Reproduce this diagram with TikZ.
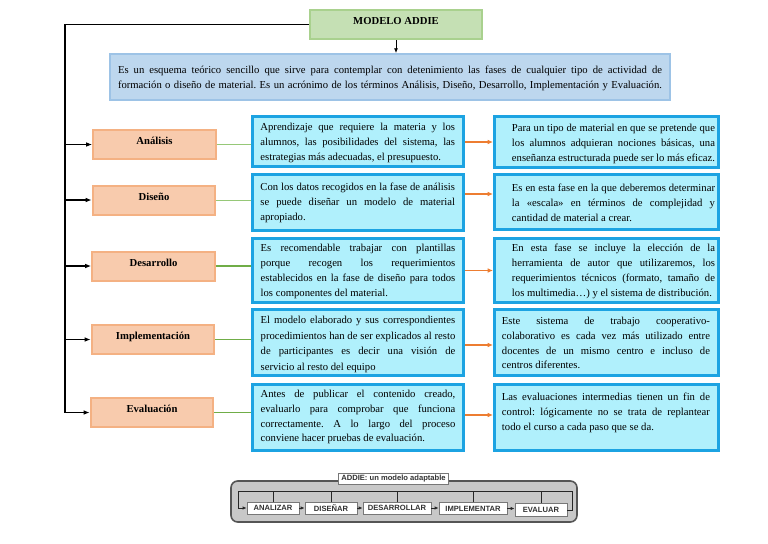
\documentclass[tikz,border=0pt]{standalone}
\usepackage{fontspec}
\setmainfont{Liberation Serif}
\setsansfont{Liberation Sans}
\usepackage{tikz}
\usetikzlibrary{arrows.meta, positioning}
\frenchspacing

\definecolor{titlefill}{RGB}{197,224,180}
\definecolor{titleline}{RGB}{169,209,142}
\definecolor{introfill}{RGB}{189,215,238}
\definecolor{introline}{RGB}{157,195,230}
\definecolor{phasefill}{RGB}{248,203,173}
\definecolor{phaseline}{RGB}{244,177,131}
\definecolor{notefill}{RGB}{176,240,252}
\definecolor{noteline}{RGB}{28,163,226}
\definecolor{linkgreen}{RGB}{112,173,71}
\definecolor{linklight}{RGB}{150,200,120}
\definecolor{linkorange}{RGB}{237,125,49}
\definecolor{stripfill}{RGB}{200,200,200}
\definecolor{stripline}{RGB}{85,85,85}
\definecolor{striptext}{RGB}{50,50,50}

% width, height, top gap, left gap, right gap, text
\newcommand{\cellbox}[6]{\begin{minipage}[c][#2][t]{#1}\leftskip=#4\relax\rightskip=#5\relax\hyphenpenalty=10000\relax\vspace*{#3}#6\end{minipage}}

\begin{document}
\begin{tikzpicture}[x=0.75pt,y=0.75pt,yscale=-1,xscale=1,
  titlebox/.style={draw=titleline, fill=titlefill, line width=1.5pt, inner sep=0pt, minimum width=129pt, minimum height=21.75pt, text height=4pt, text depth=4pt, font=\bfseries\fontsize{8}{10}\selectfont},
  introbox/.style={draw=introline, fill=introfill, line width=1.5pt, inner sep=0pt, font=\fontsize{8}{11.25}\selectfont},
  phasebox/.style={draw=phaseline, fill=phasefill, line width=1.5pt, inner sep=0pt, minimum width=92pt, minimum height=21.75pt, text height=4pt, text depth=4pt, font=\bfseries\fontsize{8}{10}\selectfont},
  notebox/.style={draw=noteline, fill=notefill, line width=2.2pt, inner sep=0pt, font=\fontsize{8}{11.25}\selectfont},
  textlead/.style={font=\fontsize{8}{#1}\selectfont},
  railarrow/.style={draw=black, line width=0.8pt, -{Latex[length=4.5pt,width=3.5pt]}},
  greenlink/.style={draw=linkgreen, line width=1.1pt},
  greenthin/.style={draw=linklight, line width=0.6pt},
  orangearrow/.style={draw=linkorange, line width=0.9pt, -{Latex[length=4pt,width=3.5pt]}},
  stripframe/.style={draw=stripline, fill=stripfill, line width=1.2pt, rounded corners=5pt, minimum width=259.5pt, minimum height=30.75pt, inner sep=0pt},
  stagebox/.style={draw=stripline!80, fill=white, line width=0.5pt, inner sep=0pt, minimum height=9pt, text=striptext, font=\sffamily\bfseries\fontsize{5.7}{6}\selectfont},
  stripedge/.style={draw=black!85, line width=0.7pt},
  stagearrow/.style={stripedge, -{Latex[length=3pt,width=2.5pt]}}
]
\path [use as bounding box] (0,0) rectangle (768,543);

%Shape: Rectangle
\node [titlebox] (title) at (396,24.5) {MODELO ADDIE};
%Shape: Rectangle
\node [introbox] (intro) at (390,77) {\cellbox{420pt}{34.5pt}{9pt}{6pt}{6pt}{\parfillskip=0pt Es un esquema teórico sencillo que sirve para contemplar con detenimiento las fases de cualquier tipo de actividad de\linebreak formación o diseño de material. Es un acrónimo de los términos Análisis, Diseño, Desarrollo, Implementación y Evaluación.}};

%Shape: Rectangle (fases)
\node [phasebox] (analisis) at (154.5,144.5) {Análisis};
\node [phasebox] (diseno) at (154,200) {Diseño};
\node [phasebox] (desarrollo) at (153.5,266) {Desarrollo};
\node [phasebox] (implem) at (153,339.5) {Implementación};
\node [phasebox] (evalua) at (152,412.5) {Evaluación};

%Shape: Rectangle (descripciones)
\node [notebox] (analisis-d) at (357.75,141.5) {\cellbox{158pt}{37.5pt}{5.25pt}{6pt}{6pt}{Aprendizaje que requiere la materia y los\linebreak alumnos, las posibilidades del sistema, las\linebreak estrategias más adecuadas, el presupuesto.}};
\node [notebox] (diseno-d) at (357.75,202.5) {\cellbox{158pt}{42pt}{6pt}{6pt}{6pt}{Con los datos recogidos en la fase de análisis\linebreak se puede diseñar un modelo de material\linebreak apropiado.}};
\node [notebox, textlead=11.4] (desarrollo-d) at (358,270.5) {\cellbox{158pt}{48pt}{4.1pt}{6pt}{6pt}{Es recomendable trabajar con plantillas\linebreak porque recogen los requerimientos\linebreak establecidos en la fase de diseño para todos\linebreak los componentes del material.}};
\node [notebox, textlead=11.6] (implem-d) at (358,342.5) {\cellbox{158pt}{49.5pt}{5.3pt}{6pt}{6pt}{El modelo elaborado y sus correspondientes\linebreak procedimientos han de ser explicados al resto\linebreak de participantes es decir una visión de\linebreak servicio al resto del equipo}};
\node [notebox, textlead=11] (evalua-d) at (358,417.5) {\cellbox{158pt}{49.5pt}{4.5pt}{6pt}{6pt}{Antes de publicar el contenido creado,\linebreak evaluarlo para comprobar que funciona\linebreak correctamente. A lo largo del proceso\linebreak conviene hacer pruebas de evaluación.}};

%Shape: Rectangle (notas)
\node [notebox] (analisis-n) at (606.5,142) {\cellbox{168pt}{38.25pt}{5.75pt}{13.1pt}{2.6pt}{Para un tipo de material en que se pretende que\linebreak los alumnos adquieran nociones básicas, una\linebreak enseñanza estructurada puede ser lo más eficaz.}};
\node [notebox] (diseno-n) at (606.5,202) {\cellbox{168pt}{41.25pt}{6.8pt}{13.1pt}{2.6pt}{Es en esta fase en la que deberemos determinar\linebreak la «escala» en términos de complejidad y\linebreak cantidad de material a crear.}};
\node [notebox] (desarrollo-n) at (606.5,270.5) {\cellbox{168pt}{48pt}{3.8pt}{13.1pt}{2.6pt}{En esta fase se incluye la elección de la\linebreak herramienta de autor que utilizaremos, los\linebreak requerimientos técnicos (formato, tamaño de\linebreak los multimedia…) y el sistema de distribución.}};
\node [notebox, textlead=11.1] (implem-n) at (606.5,342.5) {\cellbox{168pt}{49.5pt}{5.7pt}{5.6pt}{6.4pt}{Este sistema de trabajo cooperativo-\linebreak colaborativo es cada vez más utilizado entre\linebreak docentes de un mismo centro e incluso de\linebreak centros diferentes.}};
\node [notebox] (evalua-n) at (606.5,417.5) {\cellbox{168pt}{49.5pt}{6pt}{5.6pt}{6.4pt}{Las evaluaciones intermedias tienen un fin de\linebreak control: lógicamente no se trata de replantear\linebreak todo el curso a cada paso que se da.}};

%Straight Lines
\coordinate (rail) at (65,24.5);
\draw [railarrow, line width=0.6pt, -{Latex[length=3.5pt,width=3pt]}] (title.south) -- (title.south |- intro.north);
\draw [railarrow] (title.west) -- (rail) |- (evalua.west);
\draw [railarrow] (rail |- analisis.west) -- (analisis.west);
\draw [railarrow] (rail |- diseno.west) -- (diseno.west);
\draw [railarrow] (rail |- desarrollo.west) -- (desarrollo.west);
\draw [railarrow] (rail |- implem.west) -- (implem.west);

%Straight Lines
\draw [greenthin] (analisis.east) -- (analisis.east -| analisis-d.west);
\draw [greenthin] (diseno.east) -- (diseno.east -| diseno-d.west);
\draw [greenlink] (desarrollo.east) -- (desarrollo.east -| desarrollo-d.west);
\draw [greenlink] (implem.east) -- (implem.east -| implem-d.west);
\draw [greenlink] (evalua.east) -- (evalua.east -| evalua-d.west);

%Straight Lines
\draw [orangearrow] (analisis-d.east |- 0,142) -- (analisis-n.west |- 0,142);
\draw [orangearrow] (diseno-d.east |- 0,194) -- (diseno-n.west |- 0,194);
\draw [orangearrow] (desarrollo-d.east) -- (desarrollo-n.west);
\draw [orangearrow] (implem-d.east |- 0,345) -- (implem-n.west |- 0,345);
\draw [orangearrow] (evalua-d.east |- 0,415) -- (evalua-n.west |- 0,415);

%Rounded Rect
\node [stripframe] (strip) at (404,501.5) {};
\node [stagebox, minimum width=82.5pt, minimum height=8.25pt] (stripname) at (393.5,478.5) {ADDIE: un modelo adaptable};
\node [stagebox, minimum width=39pt] (analizar) at (273,508) {ANALIZAR};
\node [stagebox, minimum width=39pt] (disenar) at (331,508) {DISEÑAR};
\node [stagebox, minimum width=51pt] (desarrollar) at (397,508) {DESARROLLAR};
\node [stagebox, minimum width=51pt] (implementar) at (473,508.5) {IMPLEMENTAR};
\node [stagebox, minimum width=39pt, minimum height=9.75pt] (evaluar) at (541,510) {EVALUAR};

%Straight Lines
\coordinate (loopL) at (238,491);
\coordinate (loopR) at (572,491);
\draw [stagearrow] (analizar) -- (disenar);
\draw [stagearrow] (disenar) -- (desarrollar);
\draw [stagearrow] (desarrollar) -- (desarrollar -| implementar.west);
\draw [stagearrow] (implementar) -- (implementar -| evaluar.west);
\draw [stagearrow] (loopR) -- (loopL) |- (analizar.west);
\draw [stripedge] (loopR) |- (evaluar.east);
\draw [stripedge] (analizar.north) -- (analizar.north |- loopL);
\draw [stripedge] (disenar.north) -- (disenar.north |- loopL);
\draw [stripedge] (desarrollar.north) -- (desarrollar.north |- loopL);
\draw [stripedge] (implementar.north) -- (implementar.north |- loopL);
\draw [stripedge] (evaluar.north) -- (evaluar.north |- loopL);

\end{tikzpicture}
\end{document}
